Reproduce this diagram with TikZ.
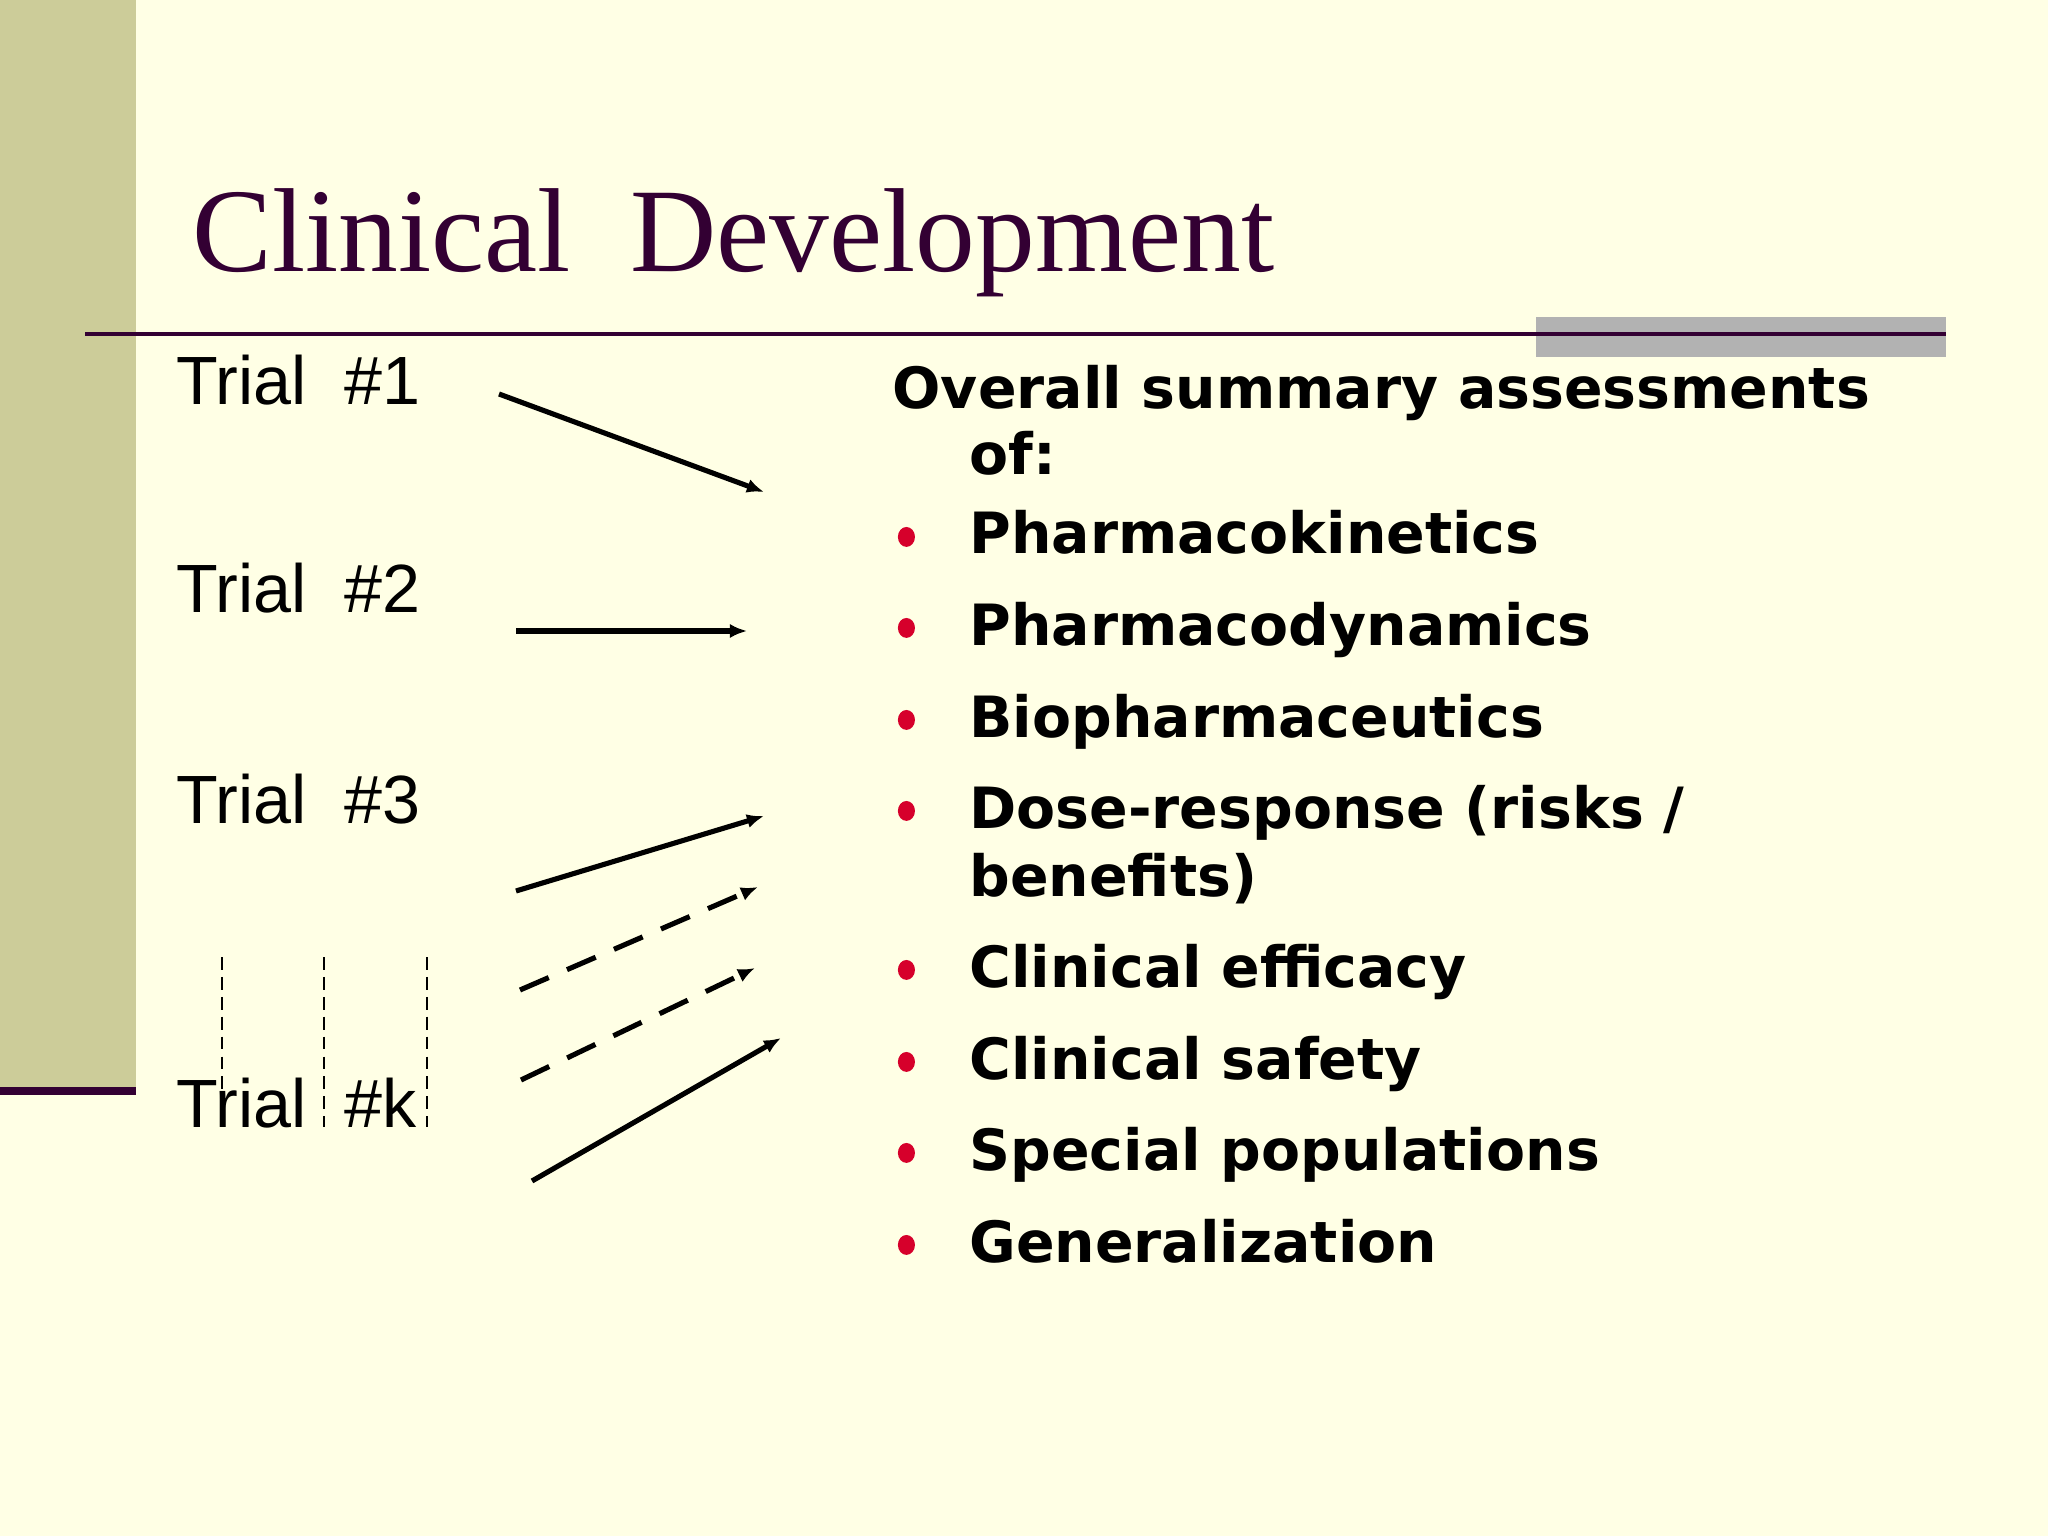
\documentclass[tikz,border=0pt]{standalone}
\usepackage{fontspec}
\setmainfont{Liberation Serif}
\newfontfamily\arialfont{Liberation Sans}
\newfontfamily\verdfont{DejaVu Sans}
\usepackage{xcolor}
\usetikzlibrary{arrows.meta,positioning,shapes.geometric}
\definecolor{slidebg}{RGB}{255,255,229}
\definecolor{bandkhaki}{RGB}{204,204,153}
\definecolor{plum}{RGB}{51,0,51}
\definecolor{bargray}{RGB}{178,178,178}
\definecolor{dotred}{RGB}{214,0,43}
\tikzset{
    ttl/.style={ % slide title
        anchor=base west,
        inner sep=0pt,
        text=plum,
        font=\fontsize{42}{48}\selectfont
        },
    trial/.style={ % trial labels
        anchor=base west,
        inner sep=0pt,
        font=\arialfont\fontsize{24}{28}\selectfont
        },
    itm/.style={ % summary items
        anchor=base west,
        inner sep=0pt,
        font=\verdfont\bfseries\fontsize{20}{24}\selectfont
        },
    dot/.style={
        ellipse,
        fill=dotred,
        inner sep=0pt,
        minimum width=6pt,
        minimum height=7pt
        },
    arrout/.style={
        -{Latex[length=6pt,width=5pt]},
        line width=1.8pt
        },
    arrdash/.style={
        arrout,
        dash pattern=on 11pt off 7pt
        },
    vdash/.style={
        line width=0.8pt,
        dash pattern=on 4.5pt off 2.5pt
        }
}

\begin{document}
\begin{tikzpicture}[x=0.3515625pt,y=-0.3515625pt]
%%%%% background and frame
\useasboundingbox (0,0) rectangle (2048,1536);
\fill[slidebg] (0,0) rectangle (2048,1536);
\fill[bandkhaki] (0,0) rectangle (136,1087);
\fill[plum] (0,1087) rectangle (136,1095);
\fill[bargray] (1536,317) rectangle (1946,357);
\fill[plum] (85,332) rectangle (1946,336);

%%%%% title
\node[ttl] (title) at (192,272) {Clinical\ \ Development};

%%%%% trials
\node[trial] (t1) at (176,405) {Trial\ \ \#1};
\node[trial] (t2) at (176,613) {Trial\ \ \#2};
\node[trial] (t3) at (176,823) {Trial\ \ \#3};
\node[trial] (tk) at (176,1127) {Trial\ \ \#k};

%%%%% dashed columns over trial k
\coordinate (c1) at (222,957);
\coordinate (c2) at (324,957);
\coordinate (c3) at (427,957);
\draw[vdash] (c1) -- (c1 |- tk.base);
\draw[vdash] (c2) -- (c2 |- tk.base);
\draw[vdash] (c3) -- (c3 |- tk.base);

%%%%% summary heading
\node[itm] (hd) at (892,409) {Overall summary assessments};
\node[itm] (hd2) at (969,475) {of:};

%%%%% items
\node[itm] (i1) at (969,554) {Pharmacokinetics};
\node[itm] (i2) at (969,645) {Pharmacodynamics};
\node[itm] (i3) at (969,737) {Biopharmaceutics};
\node[itm] (i4) at (969,828) {Dose-response (risks /};
\node[itm] (i4b) at (969,896) {benefits)};
\node[itm] (i5) at (969,987) {Clinical efficacy};
\node[itm] (i6) at (969,1079) {Clinical safety};
\node[itm] (i7) at (969,1170) {Special populations};
\node[itm] (i8) at (969,1262) {Generalization};

%%%%% bullets
\node[dot] (b1) at ([xshift=-22pt,yshift=6pt]i1.base west) {};
\node[dot] (b2) at ([xshift=-22pt,yshift=6pt]i2.base west) {};
\node[dot] (b3) at ([xshift=-22pt,yshift=6pt]i3.base west) {};
\node[dot] (b4) at ([xshift=-22pt,yshift=6pt]i4.base west) {};
\node[dot] (b5) at ([xshift=-22pt,yshift=6pt]i5.base west) {};
\node[dot] (b6) at ([xshift=-22pt,yshift=6pt]i6.base west) {};
\node[dot] (b7) at ([xshift=-22pt,yshift=6pt]i7.base west) {};
\node[dot] (b8) at ([xshift=-22pt,yshift=6pt]i8.base west) {};

%%%%% arrow ends
\coordinate (a1s) at (499,394);  \coordinate (a1e) at (764,492);
\coordinate (a2s) at (516,631);  \coordinate (a2e) at (747,631);
\coordinate (a3s) at (516,891);  \coordinate (a3e) at (764,816);
\coordinate (a4s) at (520,990);  \coordinate (a4e) at (758,887);
\coordinate (a5s) at (521,1080); \coordinate (a5e) at (755,968);
\coordinate (a6s) at (532,1181); \coordinate (a6e) at (781,1038);

%%%%% arrows
\draw[arrout] (a1s) -- (a1e);
\draw[arrout] (a2s) -- (a2e);
\draw[arrout] (a3s) -- (a3e);
\draw[arrdash] (a4s) -- (a4e);
\draw[arrdash] (a5s) -- (a5e);
\draw[arrout] (a6s) -- (a6e);

\end{tikzpicture}
\end{document}
